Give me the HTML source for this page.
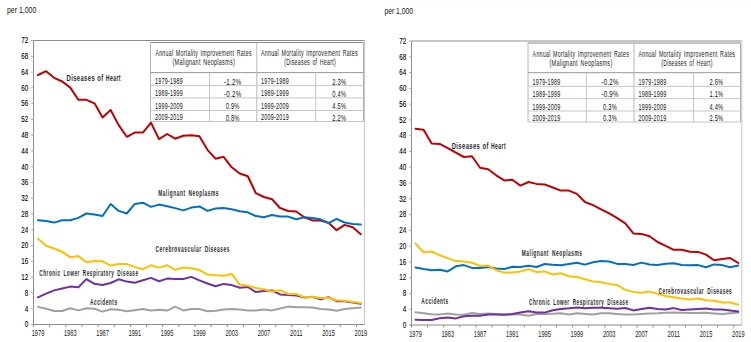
<!DOCTYPE html>
<html><head><meta charset="utf-8"><title>Mortality Improvement Charts</title>
<style>
html,body{margin:0;padding:0;background:#fff;width:751px;height:342px;overflow:hidden}
svg{display:block;font-family:"Liberation Sans", sans-serif}
</style></head><body>
<svg width="751" height="342" viewBox="0 0 751 342">
<rect x="0" y="0" width="751" height="342" fill="#fff"/>
<line x1="383" y1="3.5" x2="751" y2="3.5" stroke="#fafafa" stroke-width="1"/>
<text x="7.00" y="12.70" font-size="9.2" font-weight="normal" fill="#111" text-anchor="start" textLength="29.30" lengthAdjust="spacingAndGlyphs">per 1,000</text>
<line x1="33.5" y1="40.5" x2="364.5" y2="40.5" stroke="#8c8c8c" stroke-width="1"/>
<line x1="364.5" y1="40.5" x2="364.5" y2="324.5" stroke="#c8c8c8" stroke-width="1"/>
<line x1="33.5" y1="40.5" x2="33.5" y2="324.5" stroke="#8c8c8c" stroke-width="1"/>
<line x1="31.5" y1="324.5" x2="364.5" y2="324.5" stroke="#8a8a8a" stroke-width="1"/>
<line x1="31.0" y1="324.50" x2="33.5" y2="324.50" stroke="#b0b0b0" stroke-width="1"/>
<text x="28.30" y="327.30" font-size="9.0" font-weight="normal" fill="#000" text-anchor="end" textLength="3.50" lengthAdjust="spacingAndGlyphs" stroke="#000" stroke-width="0.12">0</text>
<line x1="31.0" y1="308.72" x2="33.5" y2="308.72" stroke="#b0b0b0" stroke-width="1"/>
<text x="28.30" y="311.52" font-size="9.0" font-weight="normal" fill="#000" text-anchor="end" textLength="3.50" lengthAdjust="spacingAndGlyphs" stroke="#000" stroke-width="0.12">4</text>
<line x1="31.0" y1="292.94" x2="33.5" y2="292.94" stroke="#b0b0b0" stroke-width="1"/>
<text x="28.30" y="295.74" font-size="9.0" font-weight="normal" fill="#000" text-anchor="end" textLength="3.50" lengthAdjust="spacingAndGlyphs" stroke="#000" stroke-width="0.12">8</text>
<line x1="31.0" y1="277.17" x2="33.5" y2="277.17" stroke="#b0b0b0" stroke-width="1"/>
<text x="28.30" y="279.97" font-size="9.0" font-weight="normal" fill="#000" text-anchor="end" textLength="7.00" lengthAdjust="spacingAndGlyphs" stroke="#000" stroke-width="0.12">12</text>
<line x1="31.0" y1="261.39" x2="33.5" y2="261.39" stroke="#b0b0b0" stroke-width="1"/>
<text x="28.30" y="264.19" font-size="9.0" font-weight="normal" fill="#000" text-anchor="end" textLength="7.00" lengthAdjust="spacingAndGlyphs" stroke="#000" stroke-width="0.12">16</text>
<line x1="31.0" y1="245.61" x2="33.5" y2="245.61" stroke="#b0b0b0" stroke-width="1"/>
<text x="28.30" y="248.41" font-size="9.0" font-weight="normal" fill="#000" text-anchor="end" textLength="7.00" lengthAdjust="spacingAndGlyphs" stroke="#000" stroke-width="0.12">20</text>
<line x1="31.0" y1="229.83" x2="33.5" y2="229.83" stroke="#b0b0b0" stroke-width="1"/>
<text x="28.30" y="232.63" font-size="9.0" font-weight="normal" fill="#000" text-anchor="end" textLength="7.00" lengthAdjust="spacingAndGlyphs" stroke="#000" stroke-width="0.12">24</text>
<line x1="31.0" y1="214.06" x2="33.5" y2="214.06" stroke="#b0b0b0" stroke-width="1"/>
<text x="28.30" y="216.86" font-size="9.0" font-weight="normal" fill="#000" text-anchor="end" textLength="7.00" lengthAdjust="spacingAndGlyphs" stroke="#000" stroke-width="0.12">28</text>
<line x1="31.0" y1="198.28" x2="33.5" y2="198.28" stroke="#b0b0b0" stroke-width="1"/>
<text x="28.30" y="201.08" font-size="9.0" font-weight="normal" fill="#000" text-anchor="end" textLength="7.00" lengthAdjust="spacingAndGlyphs" stroke="#000" stroke-width="0.12">32</text>
<line x1="31.0" y1="182.50" x2="33.5" y2="182.50" stroke="#b0b0b0" stroke-width="1"/>
<text x="28.30" y="185.30" font-size="9.0" font-weight="normal" fill="#000" text-anchor="end" textLength="7.00" lengthAdjust="spacingAndGlyphs" stroke="#000" stroke-width="0.12">36</text>
<line x1="31.0" y1="166.72" x2="33.5" y2="166.72" stroke="#b0b0b0" stroke-width="1"/>
<text x="28.30" y="169.52" font-size="9.0" font-weight="normal" fill="#000" text-anchor="end" textLength="7.00" lengthAdjust="spacingAndGlyphs" stroke="#000" stroke-width="0.12">40</text>
<line x1="31.0" y1="150.94" x2="33.5" y2="150.94" stroke="#b0b0b0" stroke-width="1"/>
<text x="28.30" y="153.74" font-size="9.0" font-weight="normal" fill="#000" text-anchor="end" textLength="7.00" lengthAdjust="spacingAndGlyphs" stroke="#000" stroke-width="0.12">44</text>
<line x1="31.0" y1="135.17" x2="33.5" y2="135.17" stroke="#b0b0b0" stroke-width="1"/>
<text x="28.30" y="137.97" font-size="9.0" font-weight="normal" fill="#000" text-anchor="end" textLength="7.00" lengthAdjust="spacingAndGlyphs" stroke="#000" stroke-width="0.12">48</text>
<line x1="31.0" y1="119.39" x2="33.5" y2="119.39" stroke="#b0b0b0" stroke-width="1"/>
<text x="28.30" y="122.19" font-size="9.0" font-weight="normal" fill="#000" text-anchor="end" textLength="7.00" lengthAdjust="spacingAndGlyphs" stroke="#000" stroke-width="0.12">52</text>
<line x1="31.0" y1="103.61" x2="33.5" y2="103.61" stroke="#b0b0b0" stroke-width="1"/>
<text x="28.30" y="106.41" font-size="9.0" font-weight="normal" fill="#000" text-anchor="end" textLength="7.00" lengthAdjust="spacingAndGlyphs" stroke="#000" stroke-width="0.12">56</text>
<line x1="31.0" y1="87.83" x2="33.5" y2="87.83" stroke="#b0b0b0" stroke-width="1"/>
<text x="28.30" y="90.63" font-size="9.0" font-weight="normal" fill="#000" text-anchor="end" textLength="7.00" lengthAdjust="spacingAndGlyphs" stroke="#000" stroke-width="0.12">60</text>
<line x1="31.0" y1="72.06" x2="33.5" y2="72.06" stroke="#b0b0b0" stroke-width="1"/>
<text x="28.30" y="74.86" font-size="9.0" font-weight="normal" fill="#000" text-anchor="end" textLength="7.00" lengthAdjust="spacingAndGlyphs" stroke="#000" stroke-width="0.12">64</text>
<line x1="31.0" y1="56.28" x2="33.5" y2="56.28" stroke="#b0b0b0" stroke-width="1"/>
<text x="28.30" y="59.08" font-size="9.0" font-weight="normal" fill="#000" text-anchor="end" textLength="7.00" lengthAdjust="spacingAndGlyphs" stroke="#000" stroke-width="0.12">68</text>
<line x1="31.0" y1="40.50" x2="33.5" y2="40.50" stroke="#b0b0b0" stroke-width="1"/>
<text x="28.30" y="43.30" font-size="9.0" font-weight="normal" fill="#000" text-anchor="end" textLength="7.00" lengthAdjust="spacingAndGlyphs" stroke="#000" stroke-width="0.12">72</text>
<line x1="33.50" y1="324.5" x2="33.50" y2="327.0" stroke="#8c8c8c" stroke-width="1"/>
<line x1="49.65" y1="324.5" x2="49.65" y2="327.0" stroke="#8c8c8c" stroke-width="1"/>
<line x1="65.79" y1="324.5" x2="65.79" y2="327.0" stroke="#8c8c8c" stroke-width="1"/>
<line x1="81.94" y1="324.5" x2="81.94" y2="327.0" stroke="#8c8c8c" stroke-width="1"/>
<line x1="98.09" y1="324.5" x2="98.09" y2="327.0" stroke="#8c8c8c" stroke-width="1"/>
<line x1="114.23" y1="324.5" x2="114.23" y2="327.0" stroke="#8c8c8c" stroke-width="1"/>
<line x1="130.38" y1="324.5" x2="130.38" y2="327.0" stroke="#8c8c8c" stroke-width="1"/>
<line x1="146.52" y1="324.5" x2="146.52" y2="327.0" stroke="#8c8c8c" stroke-width="1"/>
<line x1="162.67" y1="324.5" x2="162.67" y2="327.0" stroke="#8c8c8c" stroke-width="1"/>
<line x1="178.82" y1="324.5" x2="178.82" y2="327.0" stroke="#8c8c8c" stroke-width="1"/>
<line x1="194.96" y1="324.5" x2="194.96" y2="327.0" stroke="#8c8c8c" stroke-width="1"/>
<line x1="211.11" y1="324.5" x2="211.11" y2="327.0" stroke="#8c8c8c" stroke-width="1"/>
<line x1="227.26" y1="324.5" x2="227.26" y2="327.0" stroke="#8c8c8c" stroke-width="1"/>
<line x1="243.40" y1="324.5" x2="243.40" y2="327.0" stroke="#8c8c8c" stroke-width="1"/>
<line x1="259.55" y1="324.5" x2="259.55" y2="327.0" stroke="#8c8c8c" stroke-width="1"/>
<line x1="275.70" y1="324.5" x2="275.70" y2="327.0" stroke="#8c8c8c" stroke-width="1"/>
<line x1="291.84" y1="324.5" x2="291.84" y2="327.0" stroke="#8c8c8c" stroke-width="1"/>
<line x1="307.99" y1="324.5" x2="307.99" y2="327.0" stroke="#8c8c8c" stroke-width="1"/>
<line x1="324.13" y1="324.5" x2="324.13" y2="327.0" stroke="#8c8c8c" stroke-width="1"/>
<line x1="340.28" y1="324.5" x2="340.28" y2="327.0" stroke="#8c8c8c" stroke-width="1"/>
<line x1="356.43" y1="324.5" x2="356.43" y2="327.0" stroke="#8c8c8c" stroke-width="1"/>
<text x="38.00" y="336.30" font-size="8.4" font-weight="normal" fill="#1a1a1a" text-anchor="middle" textLength="12.60" lengthAdjust="spacingAndGlyphs">1979</text>
<text x="70.28" y="336.30" font-size="8.4" font-weight="normal" fill="#1a1a1a" text-anchor="middle" textLength="12.60" lengthAdjust="spacingAndGlyphs">1983</text>
<text x="102.56" y="336.30" font-size="8.4" font-weight="normal" fill="#1a1a1a" text-anchor="middle" textLength="12.60" lengthAdjust="spacingAndGlyphs">1987</text>
<text x="134.84" y="336.30" font-size="8.4" font-weight="normal" fill="#1a1a1a" text-anchor="middle" textLength="12.60" lengthAdjust="spacingAndGlyphs">1991</text>
<text x="167.12" y="336.30" font-size="8.4" font-weight="normal" fill="#1a1a1a" text-anchor="middle" textLength="12.60" lengthAdjust="spacingAndGlyphs">1995</text>
<text x="199.40" y="336.30" font-size="8.4" font-weight="normal" fill="#1a1a1a" text-anchor="middle" textLength="12.60" lengthAdjust="spacingAndGlyphs">1999</text>
<text x="231.68" y="336.30" font-size="8.4" font-weight="normal" fill="#1a1a1a" text-anchor="middle" textLength="12.60" lengthAdjust="spacingAndGlyphs">2003</text>
<text x="263.96" y="336.30" font-size="8.4" font-weight="normal" fill="#1a1a1a" text-anchor="middle" textLength="12.60" lengthAdjust="spacingAndGlyphs">2007</text>
<text x="296.24" y="336.30" font-size="8.4" font-weight="normal" fill="#1a1a1a" text-anchor="middle" textLength="12.60" lengthAdjust="spacingAndGlyphs">2011</text>
<text x="328.52" y="336.30" font-size="8.4" font-weight="normal" fill="#1a1a1a" text-anchor="middle" textLength="12.60" lengthAdjust="spacingAndGlyphs">2015</text>
<text x="360.80" y="336.30" font-size="8.4" font-weight="normal" fill="#1a1a1a" text-anchor="middle" textLength="12.60" lengthAdjust="spacingAndGlyphs">2019</text>
<rect x="150.5" y="42.5" width="213.0" height="79.0" fill="#fff" stroke="none"/>
<line x1="150.5" y1="42.5" x2="363.5" y2="42.5" stroke="#8a8a8a" stroke-width="1"/>
<line x1="150.5" y1="42.5" x2="150.5" y2="121.5" stroke="#b4b4b4" stroke-width="1"/>
<line x1="363.5" y1="42.5" x2="363.5" y2="121.5" stroke="#b0b0b0" stroke-width="1"/>
<line x1="150.5" y1="121.5" x2="363.5" y2="121.5" stroke="#c4c4c4" stroke-width="1"/>
<line x1="150.5" y1="72.6" x2="363.5" y2="72.6" stroke="#989898" stroke-width="1"/>
<line x1="256.8" y1="42.5" x2="256.8" y2="121.5" stroke="#b8b8b8" stroke-width="1"/>
<line x1="209.5" y1="72.6" x2="209.5" y2="121.5" stroke="#c8c8c8" stroke-width="1"/>
<line x1="315.7" y1="72.6" x2="315.7" y2="121.5" stroke="#c8c8c8" stroke-width="1"/>
<line x1="150.5" y1="85.6" x2="363.5" y2="85.6" stroke="#c8c8c8" stroke-width="1"/>
<line x1="150.5" y1="97.9" x2="363.5" y2="97.9" stroke="#c8c8c8" stroke-width="1"/>
<line x1="150.5" y1="110.5" x2="363.5" y2="110.5" stroke="#c8c8c8" stroke-width="1"/>
<text x="155.40" y="56.00" font-size="9.2" font-weight="normal" fill="#1a1a1a" text-anchor="start" textLength="96.40" lengthAdjust="spacingAndGlyphs" letter-spacing="0.5" word-spacing="1.2">Annual Mortality Improvement Rates</text>
<text x="172.50" y="64.80" font-size="9.2" font-weight="normal" fill="#1a1a1a" text-anchor="start" textLength="62.50" lengthAdjust="spacingAndGlyphs" letter-spacing="0.5" word-spacing="1.2">(Malignant Neoplasms)</text>
<text x="260.90" y="56.00" font-size="9.2" font-weight="normal" fill="#1a1a1a" text-anchor="start" textLength="97.00" lengthAdjust="spacingAndGlyphs" letter-spacing="0.5" word-spacing="1.2">Annual Mortality Improvement Rates</text>
<text x="284.20" y="64.80" font-size="9.2" font-weight="normal" fill="#1a1a1a" text-anchor="start" textLength="51.80" lengthAdjust="spacingAndGlyphs" letter-spacing="0.5" word-spacing="1.2">(Diseases of Heart)</text>
<text x="154.90" y="84.40" font-size="9.3" font-weight="normal" fill="#111" text-anchor="start" textLength="28.00" lengthAdjust="spacingAndGlyphs" letter-spacing="0.4">1979-1989</text>
<text x="232.70" y="84.80" font-size="9.3" font-weight="normal" fill="#111" text-anchor="middle" textLength="17.40" lengthAdjust="spacingAndGlyphs" letter-spacing="0.4">-1.2%</text>
<text x="154.90" y="96.30" font-size="9.3" font-weight="normal" fill="#111" text-anchor="start" textLength="28.00" lengthAdjust="spacingAndGlyphs" letter-spacing="0.4">1989-1999</text>
<text x="232.70" y="96.70" font-size="9.3" font-weight="normal" fill="#111" text-anchor="middle" textLength="17.40" lengthAdjust="spacingAndGlyphs" letter-spacing="0.4">-0.2%</text>
<text x="154.90" y="108.90" font-size="9.3" font-weight="normal" fill="#111" text-anchor="start" textLength="28.00" lengthAdjust="spacingAndGlyphs" letter-spacing="0.4">1999-2009</text>
<text x="232.70" y="109.30" font-size="9.3" font-weight="normal" fill="#111" text-anchor="middle" textLength="14.00" lengthAdjust="spacingAndGlyphs" letter-spacing="0.4">0.9%</text>
<text x="154.90" y="120.30" font-size="9.3" font-weight="normal" fill="#111" text-anchor="start" textLength="28.00" lengthAdjust="spacingAndGlyphs" letter-spacing="0.4">2009-2019</text>
<text x="232.70" y="120.70" font-size="9.3" font-weight="normal" fill="#111" text-anchor="middle" textLength="14.00" lengthAdjust="spacingAndGlyphs" letter-spacing="0.4">0.8%</text>
<text x="260.90" y="84.40" font-size="9.3" font-weight="normal" fill="#111" text-anchor="start" textLength="28.00" lengthAdjust="spacingAndGlyphs" letter-spacing="0.4">1979-1989</text>
<text x="339.30" y="84.80" font-size="9.3" font-weight="normal" fill="#111" text-anchor="middle" textLength="14.00" lengthAdjust="spacingAndGlyphs" letter-spacing="0.4">2.3%</text>
<text x="260.90" y="96.30" font-size="9.3" font-weight="normal" fill="#111" text-anchor="start" textLength="28.00" lengthAdjust="spacingAndGlyphs" letter-spacing="0.4">1989-1999</text>
<text x="339.30" y="96.70" font-size="9.3" font-weight="normal" fill="#111" text-anchor="middle" textLength="14.00" lengthAdjust="spacingAndGlyphs" letter-spacing="0.4">0.4%</text>
<text x="260.90" y="108.90" font-size="9.3" font-weight="normal" fill="#111" text-anchor="start" textLength="28.00" lengthAdjust="spacingAndGlyphs" letter-spacing="0.4">1999-2009</text>
<text x="339.30" y="109.30" font-size="9.3" font-weight="normal" fill="#111" text-anchor="middle" textLength="14.00" lengthAdjust="spacingAndGlyphs" letter-spacing="0.4">4.5%</text>
<text x="260.90" y="120.30" font-size="9.3" font-weight="normal" fill="#111" text-anchor="start" textLength="28.00" lengthAdjust="spacingAndGlyphs" letter-spacing="0.4">2009-2019</text>
<text x="339.30" y="120.70" font-size="9.3" font-weight="normal" fill="#111" text-anchor="middle" textLength="14.00" lengthAdjust="spacingAndGlyphs" letter-spacing="0.4">2.2%</text>
<polyline points="38.00,75.00 46.07,71.20 54.14,77.80 62.21,81.50 70.28,87.60 78.35,99.80 86.42,99.80 94.49,103.30 102.56,117.50 110.63,110.00 118.70,125.10 126.77,136.80 134.84,132.60 142.91,132.60 150.98,122.70 159.05,139.10 167.12,134.00 175.19,138.70 183.26,135.70 191.33,135.30 199.40,136.20 207.47,149.80 215.54,158.70 223.61,156.80 231.68,167.30 239.75,173.50 247.82,176.20 255.89,193.20 263.96,197.00 272.03,199.30 280.10,208.00 288.17,211.00 296.24,211.50 304.31,217.30 312.38,220.40 320.45,220.50 328.52,222.80 336.59,230.20 344.66,224.90 352.73,227.20 360.80,234.20" fill="none" stroke="#c00000" stroke-width="2.0" stroke-linejoin="round" stroke-linecap="round"/>
<polyline points="38.00,220.20 46.07,220.90 54.14,222.60 62.21,220.20 70.28,220.20 78.35,217.90 86.42,213.50 94.49,214.60 102.56,216.00 110.63,204.00 118.70,210.90 126.77,213.50 134.84,203.90 142.91,202.70 150.98,206.90 159.05,204.60 167.12,206.20 175.19,208.10 183.26,210.40 191.33,207.60 199.40,206.40 207.47,210.90 215.54,208.50 223.61,208.10 231.68,209.20 239.75,211.30 247.82,212.30 255.89,216.10 263.96,217.30 272.03,215.00 280.10,216.60 288.17,216.60 296.24,219.20 304.31,217.30 312.38,218.00 320.45,219.30 328.52,223.20 336.59,218.80 344.66,222.50 352.73,224.00 360.80,224.60" fill="none" stroke="#0070c0" stroke-width="2.0" stroke-linejoin="round" stroke-linecap="round"/>
<polyline points="38.00,306.90 46.07,308.80 54.14,311.00 62.21,311.00 70.28,308.30 78.35,310.40 86.42,308.30 94.49,308.80 102.56,311.60 110.63,309.20 118.70,309.70 126.77,311.30 134.84,310.20 142.91,309.00 150.98,310.60 159.05,309.70 167.12,310.60 175.19,306.70 183.26,310.40 191.33,309.00 199.40,309.00 207.47,311.30 215.54,310.80 223.61,309.60 231.68,309.00 239.75,309.60 247.82,310.40 255.89,310.40 263.96,309.60 272.03,310.40 280.10,308.50 288.17,306.60 296.24,307.30 304.31,307.30 312.38,307.50 320.45,309.00 328.52,309.50 336.59,310.70 344.66,309.00 352.73,308.20 360.80,307.40" fill="none" stroke="#a0a0a0" stroke-width="2.0" stroke-linejoin="round" stroke-linecap="round"/>
<polyline points="38.00,297.40 46.07,293.60 54.14,290.40 62.21,288.50 70.28,286.60 78.35,287.30 86.42,279.10 94.49,283.80 102.56,285.00 110.63,283.00 118.70,279.30 126.77,281.60 134.84,282.80 142.91,280.20 150.98,277.90 159.05,281.20 167.12,278.60 175.19,278.90 183.26,279.00 191.33,276.90 199.40,280.40 207.47,283.50 215.54,286.30 223.61,283.90 231.68,285.10 239.75,287.70 247.82,287.00 255.89,292.10 263.96,290.90 272.03,290.50 280.10,294.40 288.17,295.10 296.24,295.60 304.31,297.50 312.38,296.80 320.45,299.20 328.52,297.20 336.59,301.20 344.66,301.20 352.73,302.50 360.80,303.70" fill="none" stroke="#7030a0" stroke-width="2.0" stroke-linejoin="round" stroke-linecap="round"/>
<polyline points="38.00,238.70 46.07,245.70 54.14,248.50 62.21,251.80 70.28,257.30 78.35,256.10 86.42,262.30 94.49,260.90 102.56,261.30 110.63,265.60 118.70,264.10 126.77,264.10 134.84,266.90 142.91,269.20 150.98,265.30 159.05,267.60 167.12,265.30 175.19,269.90 183.26,267.50 191.33,268.20 199.40,269.90 207.47,274.60 215.54,275.30 223.61,275.70 231.68,273.90 239.75,284.60 247.82,285.80 255.89,287.90 263.96,289.30 272.03,291.60 280.10,290.20 288.17,294.00 296.24,294.00 304.31,297.30 312.38,297.00 320.45,298.00 328.52,297.70 336.59,300.20 344.66,300.70 352.73,302.00 360.80,303.00" fill="none" stroke="#ffc000" stroke-width="2.0" stroke-linejoin="round" stroke-linecap="round"/>
<text x="66.60" y="80.60" font-size="9.4" font-weight="bold" fill="#2b2b2b" text-anchor="start" textLength="54.40" lengthAdjust="spacingAndGlyphs" letter-spacing="0.6" word-spacing="0.3">Diseases of <tspan font-size="8.4">Heart</tspan></text>
<text x="158.30" y="195.70" font-size="8.2" font-weight="bold" fill="#2b2b2b" text-anchor="start" textLength="60.70" lengthAdjust="spacingAndGlyphs" letter-spacing="0.9" word-spacing="2">Malignant Neoplasms</text>
<text x="155.60" y="252.30" font-size="8.2" font-weight="bold" fill="#2b2b2b" text-anchor="start" textLength="74.30" lengthAdjust="spacingAndGlyphs" letter-spacing="0.9" word-spacing="2">Cerebrovascular Diseases</text>
<text x="39.30" y="275.90" font-size="8.2" font-weight="bold" fill="#2b2b2b" text-anchor="start" textLength="99.30" lengthAdjust="spacingAndGlyphs" letter-spacing="0.9" word-spacing="2">Chronic Lower Respiratory Disease</text>
<text x="90.00" y="305.00" font-size="8.2" font-weight="bold" fill="#2b2b2b" text-anchor="start" textLength="27.60" lengthAdjust="spacingAndGlyphs" letter-spacing="0.9" word-spacing="2">Accidents</text>
<text x="384.40" y="14.00" font-size="9.2" font-weight="normal" fill="#111" text-anchor="start" textLength="28.60" lengthAdjust="spacingAndGlyphs">per 1,000</text>
<line x1="411.5" y1="41.0" x2="741.8" y2="41.0" stroke="#8c8c8c" stroke-width="1"/>
<line x1="741.8" y1="41.0" x2="741.8" y2="325.0" stroke="#c8c8c8" stroke-width="1"/>
<line x1="411.5" y1="41.0" x2="411.5" y2="325.0" stroke="#8c8c8c" stroke-width="1"/>
<line x1="409.5" y1="325.0" x2="741.8" y2="325.0" stroke="#8a8a8a" stroke-width="1"/>
<line x1="409.0" y1="325.00" x2="411.5" y2="325.00" stroke="#b0b0b0" stroke-width="1"/>
<text x="406.30" y="327.80" font-size="9.0" font-weight="normal" fill="#000" text-anchor="end" textLength="3.50" lengthAdjust="spacingAndGlyphs" stroke="#000" stroke-width="0.12">0</text>
<line x1="409.0" y1="309.22" x2="411.5" y2="309.22" stroke="#b0b0b0" stroke-width="1"/>
<text x="406.30" y="312.02" font-size="9.0" font-weight="normal" fill="#000" text-anchor="end" textLength="3.50" lengthAdjust="spacingAndGlyphs" stroke="#000" stroke-width="0.12">4</text>
<line x1="409.0" y1="293.44" x2="411.5" y2="293.44" stroke="#b0b0b0" stroke-width="1"/>
<text x="406.30" y="296.24" font-size="9.0" font-weight="normal" fill="#000" text-anchor="end" textLength="3.50" lengthAdjust="spacingAndGlyphs" stroke="#000" stroke-width="0.12">8</text>
<line x1="409.0" y1="277.67" x2="411.5" y2="277.67" stroke="#b0b0b0" stroke-width="1"/>
<text x="406.30" y="280.47" font-size="9.0" font-weight="normal" fill="#000" text-anchor="end" textLength="7.00" lengthAdjust="spacingAndGlyphs" stroke="#000" stroke-width="0.12">12</text>
<line x1="409.0" y1="261.89" x2="411.5" y2="261.89" stroke="#b0b0b0" stroke-width="1"/>
<text x="406.30" y="264.69" font-size="9.0" font-weight="normal" fill="#000" text-anchor="end" textLength="7.00" lengthAdjust="spacingAndGlyphs" stroke="#000" stroke-width="0.12">16</text>
<line x1="409.0" y1="246.11" x2="411.5" y2="246.11" stroke="#b0b0b0" stroke-width="1"/>
<text x="406.30" y="248.91" font-size="9.0" font-weight="normal" fill="#000" text-anchor="end" textLength="7.00" lengthAdjust="spacingAndGlyphs" stroke="#000" stroke-width="0.12">20</text>
<line x1="409.0" y1="230.33" x2="411.5" y2="230.33" stroke="#b0b0b0" stroke-width="1"/>
<text x="406.30" y="233.13" font-size="9.0" font-weight="normal" fill="#000" text-anchor="end" textLength="7.00" lengthAdjust="spacingAndGlyphs" stroke="#000" stroke-width="0.12">24</text>
<line x1="409.0" y1="214.56" x2="411.5" y2="214.56" stroke="#b0b0b0" stroke-width="1"/>
<text x="406.30" y="217.36" font-size="9.0" font-weight="normal" fill="#000" text-anchor="end" textLength="7.00" lengthAdjust="spacingAndGlyphs" stroke="#000" stroke-width="0.12">28</text>
<line x1="409.0" y1="198.78" x2="411.5" y2="198.78" stroke="#b0b0b0" stroke-width="1"/>
<text x="406.30" y="201.58" font-size="9.0" font-weight="normal" fill="#000" text-anchor="end" textLength="7.00" lengthAdjust="spacingAndGlyphs" stroke="#000" stroke-width="0.12">32</text>
<line x1="409.0" y1="183.00" x2="411.5" y2="183.00" stroke="#b0b0b0" stroke-width="1"/>
<text x="406.30" y="185.80" font-size="9.0" font-weight="normal" fill="#000" text-anchor="end" textLength="7.00" lengthAdjust="spacingAndGlyphs" stroke="#000" stroke-width="0.12">36</text>
<line x1="409.0" y1="167.22" x2="411.5" y2="167.22" stroke="#b0b0b0" stroke-width="1"/>
<text x="406.30" y="170.02" font-size="9.0" font-weight="normal" fill="#000" text-anchor="end" textLength="7.00" lengthAdjust="spacingAndGlyphs" stroke="#000" stroke-width="0.12">40</text>
<line x1="409.0" y1="151.44" x2="411.5" y2="151.44" stroke="#b0b0b0" stroke-width="1"/>
<text x="406.30" y="154.24" font-size="9.0" font-weight="normal" fill="#000" text-anchor="end" textLength="7.00" lengthAdjust="spacingAndGlyphs" stroke="#000" stroke-width="0.12">44</text>
<line x1="409.0" y1="135.67" x2="411.5" y2="135.67" stroke="#b0b0b0" stroke-width="1"/>
<text x="406.30" y="138.47" font-size="9.0" font-weight="normal" fill="#000" text-anchor="end" textLength="7.00" lengthAdjust="spacingAndGlyphs" stroke="#000" stroke-width="0.12">48</text>
<line x1="409.0" y1="119.89" x2="411.5" y2="119.89" stroke="#b0b0b0" stroke-width="1"/>
<text x="406.30" y="122.69" font-size="9.0" font-weight="normal" fill="#000" text-anchor="end" textLength="7.00" lengthAdjust="spacingAndGlyphs" stroke="#000" stroke-width="0.12">52</text>
<line x1="409.0" y1="104.11" x2="411.5" y2="104.11" stroke="#b0b0b0" stroke-width="1"/>
<text x="406.30" y="106.91" font-size="9.0" font-weight="normal" fill="#000" text-anchor="end" textLength="7.00" lengthAdjust="spacingAndGlyphs" stroke="#000" stroke-width="0.12">56</text>
<line x1="409.0" y1="88.33" x2="411.5" y2="88.33" stroke="#b0b0b0" stroke-width="1"/>
<text x="406.30" y="91.13" font-size="9.0" font-weight="normal" fill="#000" text-anchor="end" textLength="7.00" lengthAdjust="spacingAndGlyphs" stroke="#000" stroke-width="0.12">60</text>
<line x1="409.0" y1="72.56" x2="411.5" y2="72.56" stroke="#b0b0b0" stroke-width="1"/>
<text x="406.30" y="75.36" font-size="9.0" font-weight="normal" fill="#000" text-anchor="end" textLength="7.00" lengthAdjust="spacingAndGlyphs" stroke="#000" stroke-width="0.12">64</text>
<line x1="409.0" y1="56.78" x2="411.5" y2="56.78" stroke="#b0b0b0" stroke-width="1"/>
<text x="406.30" y="59.58" font-size="9.0" font-weight="normal" fill="#000" text-anchor="end" textLength="7.00" lengthAdjust="spacingAndGlyphs" stroke="#000" stroke-width="0.12">68</text>
<line x1="409.0" y1="41.00" x2="411.5" y2="41.00" stroke="#b0b0b0" stroke-width="1"/>
<text x="406.30" y="43.80" font-size="9.0" font-weight="normal" fill="#000" text-anchor="end" textLength="7.00" lengthAdjust="spacingAndGlyphs" stroke="#000" stroke-width="0.12">72</text>
<line x1="411.50" y1="325.0" x2="411.50" y2="327.5" stroke="#8c8c8c" stroke-width="1"/>
<line x1="427.61" y1="325.0" x2="427.61" y2="327.5" stroke="#8c8c8c" stroke-width="1"/>
<line x1="443.72" y1="325.0" x2="443.72" y2="327.5" stroke="#8c8c8c" stroke-width="1"/>
<line x1="459.84" y1="325.0" x2="459.84" y2="327.5" stroke="#8c8c8c" stroke-width="1"/>
<line x1="475.95" y1="325.0" x2="475.95" y2="327.5" stroke="#8c8c8c" stroke-width="1"/>
<line x1="492.06" y1="325.0" x2="492.06" y2="327.5" stroke="#8c8c8c" stroke-width="1"/>
<line x1="508.17" y1="325.0" x2="508.17" y2="327.5" stroke="#8c8c8c" stroke-width="1"/>
<line x1="524.29" y1="325.0" x2="524.29" y2="327.5" stroke="#8c8c8c" stroke-width="1"/>
<line x1="540.40" y1="325.0" x2="540.40" y2="327.5" stroke="#8c8c8c" stroke-width="1"/>
<line x1="556.51" y1="325.0" x2="556.51" y2="327.5" stroke="#8c8c8c" stroke-width="1"/>
<line x1="572.62" y1="325.0" x2="572.62" y2="327.5" stroke="#8c8c8c" stroke-width="1"/>
<line x1="588.73" y1="325.0" x2="588.73" y2="327.5" stroke="#8c8c8c" stroke-width="1"/>
<line x1="604.85" y1="325.0" x2="604.85" y2="327.5" stroke="#8c8c8c" stroke-width="1"/>
<line x1="620.96" y1="325.0" x2="620.96" y2="327.5" stroke="#8c8c8c" stroke-width="1"/>
<line x1="637.07" y1="325.0" x2="637.07" y2="327.5" stroke="#8c8c8c" stroke-width="1"/>
<line x1="653.18" y1="325.0" x2="653.18" y2="327.5" stroke="#8c8c8c" stroke-width="1"/>
<line x1="669.30" y1="325.0" x2="669.30" y2="327.5" stroke="#8c8c8c" stroke-width="1"/>
<line x1="685.41" y1="325.0" x2="685.41" y2="327.5" stroke="#8c8c8c" stroke-width="1"/>
<line x1="701.52" y1="325.0" x2="701.52" y2="327.5" stroke="#8c8c8c" stroke-width="1"/>
<line x1="717.63" y1="325.0" x2="717.63" y2="327.5" stroke="#8c8c8c" stroke-width="1"/>
<line x1="733.74" y1="325.0" x2="733.74" y2="327.5" stroke="#8c8c8c" stroke-width="1"/>
<text x="415.50" y="336.80" font-size="8.4" font-weight="normal" fill="#1a1a1a" text-anchor="middle" textLength="12.60" lengthAdjust="spacingAndGlyphs">1979</text>
<text x="447.78" y="336.80" font-size="8.4" font-weight="normal" fill="#1a1a1a" text-anchor="middle" textLength="12.60" lengthAdjust="spacingAndGlyphs">1983</text>
<text x="480.06" y="336.80" font-size="8.4" font-weight="normal" fill="#1a1a1a" text-anchor="middle" textLength="12.60" lengthAdjust="spacingAndGlyphs">1987</text>
<text x="512.34" y="336.80" font-size="8.4" font-weight="normal" fill="#1a1a1a" text-anchor="middle" textLength="12.60" lengthAdjust="spacingAndGlyphs">1991</text>
<text x="544.62" y="336.80" font-size="8.4" font-weight="normal" fill="#1a1a1a" text-anchor="middle" textLength="12.60" lengthAdjust="spacingAndGlyphs">1995</text>
<text x="576.90" y="336.80" font-size="8.4" font-weight="normal" fill="#1a1a1a" text-anchor="middle" textLength="12.60" lengthAdjust="spacingAndGlyphs">1999</text>
<text x="609.18" y="336.80" font-size="8.4" font-weight="normal" fill="#1a1a1a" text-anchor="middle" textLength="12.60" lengthAdjust="spacingAndGlyphs">2003</text>
<text x="641.46" y="336.80" font-size="8.4" font-weight="normal" fill="#1a1a1a" text-anchor="middle" textLength="12.60" lengthAdjust="spacingAndGlyphs">2007</text>
<text x="673.74" y="336.80" font-size="8.4" font-weight="normal" fill="#1a1a1a" text-anchor="middle" textLength="12.60" lengthAdjust="spacingAndGlyphs">2011</text>
<text x="706.02" y="336.80" font-size="8.4" font-weight="normal" fill="#1a1a1a" text-anchor="middle" textLength="12.60" lengthAdjust="spacingAndGlyphs">2015</text>
<text x="738.30" y="336.80" font-size="8.4" font-weight="normal" fill="#1a1a1a" text-anchor="middle" textLength="12.60" lengthAdjust="spacingAndGlyphs">2019</text>
<rect x="528.0" y="43.0" width="212.5" height="79.0" fill="#fff" stroke="none"/>
<line x1="528.0" y1="43.0" x2="740.5" y2="43.0" stroke="#8a8a8a" stroke-width="1"/>
<line x1="528.0" y1="43.0" x2="528.0" y2="122.0" stroke="#b4b4b4" stroke-width="1"/>
<line x1="740.5" y1="43.0" x2="740.5" y2="122.0" stroke="#b0b0b0" stroke-width="1"/>
<line x1="528.0" y1="122.0" x2="740.5" y2="122.0" stroke="#c4c4c4" stroke-width="1"/>
<line x1="528.0" y1="72.7" x2="740.5" y2="72.7" stroke="#989898" stroke-width="1"/>
<line x1="634.0" y1="43.0" x2="634.0" y2="122.0" stroke="#b8b8b8" stroke-width="1"/>
<line x1="586.3" y1="72.7" x2="586.3" y2="122.0" stroke="#c8c8c8" stroke-width="1"/>
<line x1="693.5" y1="72.7" x2="693.5" y2="122.0" stroke="#c8c8c8" stroke-width="1"/>
<line x1="528.0" y1="86.4" x2="740.5" y2="86.4" stroke="#c8c8c8" stroke-width="1"/>
<line x1="528.0" y1="98.7" x2="740.5" y2="98.7" stroke="#c8c8c8" stroke-width="1"/>
<line x1="528.0" y1="111.0" x2="740.5" y2="111.0" stroke="#c8c8c8" stroke-width="1"/>
<text x="532.60" y="56.90" font-size="9.2" font-weight="normal" fill="#1a1a1a" text-anchor="start" textLength="96.50" lengthAdjust="spacingAndGlyphs" letter-spacing="0.5" word-spacing="1.2">Annual Mortality Improvement Rates</text>
<text x="549.50" y="65.70" font-size="9.2" font-weight="normal" fill="#1a1a1a" text-anchor="start" textLength="63.00" lengthAdjust="spacingAndGlyphs" letter-spacing="0.5" word-spacing="1.2">(Malignant Neoplasms)</text>
<text x="638.40" y="56.90" font-size="9.2" font-weight="normal" fill="#1a1a1a" text-anchor="start" textLength="96.90" lengthAdjust="spacingAndGlyphs" letter-spacing="0.5" word-spacing="1.2">Annual Mortality Improvement Rates</text>
<text x="661.20" y="65.70" font-size="9.2" font-weight="normal" fill="#1a1a1a" text-anchor="start" textLength="51.60" lengthAdjust="spacingAndGlyphs" letter-spacing="0.5" word-spacing="1.2">(Diseases of Heart)</text>
<text x="532.50" y="84.60" font-size="9.3" font-weight="normal" fill="#111" text-anchor="start" textLength="28.00" lengthAdjust="spacingAndGlyphs" letter-spacing="0.4">1979-1989</text>
<text x="610.10" y="85.00" font-size="9.3" font-weight="normal" fill="#111" text-anchor="middle" textLength="17.40" lengthAdjust="spacingAndGlyphs" letter-spacing="0.4">-0.2%</text>
<text x="532.50" y="96.90" font-size="9.3" font-weight="normal" fill="#111" text-anchor="start" textLength="28.00" lengthAdjust="spacingAndGlyphs" letter-spacing="0.4">1989-1999</text>
<text x="610.10" y="97.30" font-size="9.3" font-weight="normal" fill="#111" text-anchor="middle" textLength="17.40" lengthAdjust="spacingAndGlyphs" letter-spacing="0.4">-0.9%</text>
<text x="532.50" y="109.60" font-size="9.3" font-weight="normal" fill="#111" text-anchor="start" textLength="28.00" lengthAdjust="spacingAndGlyphs" letter-spacing="0.4">1999-2009</text>
<text x="610.10" y="110.00" font-size="9.3" font-weight="normal" fill="#111" text-anchor="middle" textLength="14.00" lengthAdjust="spacingAndGlyphs" letter-spacing="0.4">0.3%</text>
<text x="532.50" y="121.00" font-size="9.3" font-weight="normal" fill="#111" text-anchor="start" textLength="28.00" lengthAdjust="spacingAndGlyphs" letter-spacing="0.4">2009-2019</text>
<text x="610.10" y="121.40" font-size="9.3" font-weight="normal" fill="#111" text-anchor="middle" textLength="14.00" lengthAdjust="spacingAndGlyphs" letter-spacing="0.4">0.3%</text>
<text x="638.40" y="84.60" font-size="9.3" font-weight="normal" fill="#111" text-anchor="start" textLength="28.00" lengthAdjust="spacingAndGlyphs" letter-spacing="0.4">1979-1989</text>
<text x="716.40" y="85.00" font-size="9.3" font-weight="normal" fill="#111" text-anchor="middle" textLength="14.00" lengthAdjust="spacingAndGlyphs" letter-spacing="0.4">2.6%</text>
<text x="638.40" y="96.90" font-size="9.3" font-weight="normal" fill="#111" text-anchor="start" textLength="28.00" lengthAdjust="spacingAndGlyphs" letter-spacing="0.4">1989-1999</text>
<text x="716.40" y="97.30" font-size="9.3" font-weight="normal" fill="#111" text-anchor="middle" textLength="14.00" lengthAdjust="spacingAndGlyphs" letter-spacing="0.4">1.1%</text>
<text x="638.40" y="109.60" font-size="9.3" font-weight="normal" fill="#111" text-anchor="start" textLength="28.00" lengthAdjust="spacingAndGlyphs" letter-spacing="0.4">1999-2009</text>
<text x="716.40" y="110.00" font-size="9.3" font-weight="normal" fill="#111" text-anchor="middle" textLength="14.00" lengthAdjust="spacingAndGlyphs" letter-spacing="0.4">4.4%</text>
<text x="638.40" y="121.00" font-size="9.3" font-weight="normal" fill="#111" text-anchor="start" textLength="28.00" lengthAdjust="spacingAndGlyphs" letter-spacing="0.4">2009-2019</text>
<text x="716.40" y="121.40" font-size="9.3" font-weight="normal" fill="#111" text-anchor="middle" textLength="14.00" lengthAdjust="spacingAndGlyphs" letter-spacing="0.4">2.5%</text>
<polyline points="415.50,128.70 423.57,129.80 431.64,143.40 439.71,143.90 447.78,148.10 455.85,152.70 463.92,157.00 471.99,156.30 480.06,167.80 488.13,169.20 496.20,175.30 504.27,180.40 512.34,179.70 520.41,185.60 528.48,182.00 536.55,183.90 544.62,184.40 552.69,187.50 560.76,190.60 568.83,190.60 576.90,193.90 584.97,202.00 593.04,205.10 601.11,209.30 609.18,213.30 617.25,218.10 625.32,223.30 633.39,233.40 641.46,233.90 649.53,236.20 657.60,242.00 665.67,245.80 673.74,249.80 681.81,249.80 689.88,251.70 697.95,251.90 706.02,254.60 714.09,260.20 722.16,258.90 730.23,258.10 738.30,263.00" fill="none" stroke="#c00000" stroke-width="2.0" stroke-linejoin="round" stroke-linecap="round"/>
<polyline points="415.50,267.40 423.57,269.10 431.64,270.20 439.71,269.80 447.78,271.40 455.85,266.30 463.92,265.10 471.99,267.90 480.06,267.90 488.13,267.00 496.20,268.60 504.27,269.10 512.34,266.70 520.41,267.00 528.48,265.80 536.55,267.00 544.62,264.00 552.69,264.80 560.76,265.30 568.83,263.90 576.90,262.70 584.97,264.60 593.04,262.20 601.11,261.10 609.18,261.50 617.25,263.90 625.32,263.90 633.39,265.00 641.46,262.60 649.53,264.50 657.60,265.00 665.67,263.80 673.74,263.30 681.81,265.00 689.88,265.20 697.95,265.10 706.02,267.20 714.09,264.40 722.16,265.10 730.23,267.20 738.30,265.60" fill="none" stroke="#0070c0" stroke-width="2.0" stroke-linejoin="round" stroke-linecap="round"/>
<polyline points="415.50,312.30 423.57,313.30 431.64,314.20 439.71,314.40 447.78,313.60 455.85,314.40 463.92,314.70 471.99,312.90 480.06,314.00 488.13,313.60 496.20,314.00 504.27,314.40 512.34,314.40 520.41,314.40 528.48,315.80 536.55,314.00 544.62,314.00 552.69,313.80 560.76,313.30 568.83,314.60 576.90,313.30 584.97,314.00 593.04,314.60 601.11,313.30 609.18,313.30 617.25,314.00 625.32,314.60 633.39,314.40 641.46,313.90 649.53,313.50 657.60,313.30 665.67,312.80 673.74,312.60 681.81,312.80 689.88,313.00 697.95,313.00 706.02,312.80 714.09,313.40 722.16,313.90 730.23,313.20 738.30,312.50" fill="none" stroke="#a0a0a0" stroke-width="2.0" stroke-linejoin="round" stroke-linecap="round"/>
<polyline points="415.50,319.70 423.57,320.00 431.64,320.00 439.71,318.20 447.78,317.60 455.85,318.40 463.92,316.30 471.99,315.80 480.06,315.80 488.13,314.40 496.20,314.40 504.27,314.70 512.34,314.00 520.41,312.60 528.48,311.20 536.55,312.60 544.62,312.60 552.69,310.20 560.76,309.00 568.83,308.30 576.90,307.40 584.97,308.30 593.04,307.80 601.11,307.80 609.18,308.30 617.25,308.70 625.32,308.00 633.39,310.40 641.46,309.00 649.53,307.70 657.60,309.00 665.67,309.50 673.74,308.10 681.81,310.00 689.88,309.50 697.95,309.00 706.02,308.60 714.09,309.50 722.16,309.50 730.23,310.40 738.30,311.60" fill="none" stroke="#7030a0" stroke-width="2.0" stroke-linejoin="round" stroke-linecap="round"/>
<polyline points="415.50,243.60 423.57,252.20 431.64,251.50 439.71,255.30 447.78,258.10 455.85,261.10 463.92,261.60 471.99,262.70 480.06,266.00 488.13,265.60 496.20,270.20 504.27,272.60 512.34,272.60 520.41,271.40 528.48,269.30 536.55,272.10 544.62,271.40 552.69,274.50 560.76,273.20 568.83,276.30 576.90,277.00 584.97,279.30 593.04,281.40 601.11,282.10 609.18,284.00 617.25,285.00 625.32,289.90 633.39,291.90 641.46,292.80 649.53,291.60 657.60,293.70 665.67,296.00 673.74,297.20 681.81,298.40 689.88,299.50 697.95,298.40 706.02,300.20 714.09,300.70 722.16,302.50 730.23,302.50 738.30,304.70" fill="none" stroke="#ffc000" stroke-width="2.0" stroke-linejoin="round" stroke-linecap="round"/>
<text x="451.70" y="149.40" font-size="9.4" font-weight="bold" fill="#2b2b2b" text-anchor="start" textLength="54.30" lengthAdjust="spacingAndGlyphs" letter-spacing="0.6" word-spacing="0.3">Diseases of <tspan font-size="8.2">Heart</tspan></text>
<text x="521.80" y="255.80" font-size="8.2" font-weight="bold" fill="#2b2b2b" text-anchor="start" textLength="60.60" lengthAdjust="spacingAndGlyphs" letter-spacing="0.9" word-spacing="2">Malignant Neoplasms</text>
<text x="658.50" y="293.70" font-size="8.2" font-weight="bold" fill="#2b2b2b" text-anchor="start" textLength="73.80" lengthAdjust="spacingAndGlyphs" letter-spacing="0.9" word-spacing="2">Cerebrovascular Diseases</text>
<text x="529.10" y="304.60" font-size="8.2" font-weight="bold" fill="#2b2b2b" text-anchor="start" textLength="99.50" lengthAdjust="spacingAndGlyphs" letter-spacing="0.9" word-spacing="2">Chronic Lower Respiratory Disease</text>
<text x="421.30" y="303.70" font-size="8.2" font-weight="bold" fill="#2b2b2b" text-anchor="start" textLength="27.50" lengthAdjust="spacingAndGlyphs" letter-spacing="0.9" word-spacing="2">Accidents</text>
</svg>
</body></html>
